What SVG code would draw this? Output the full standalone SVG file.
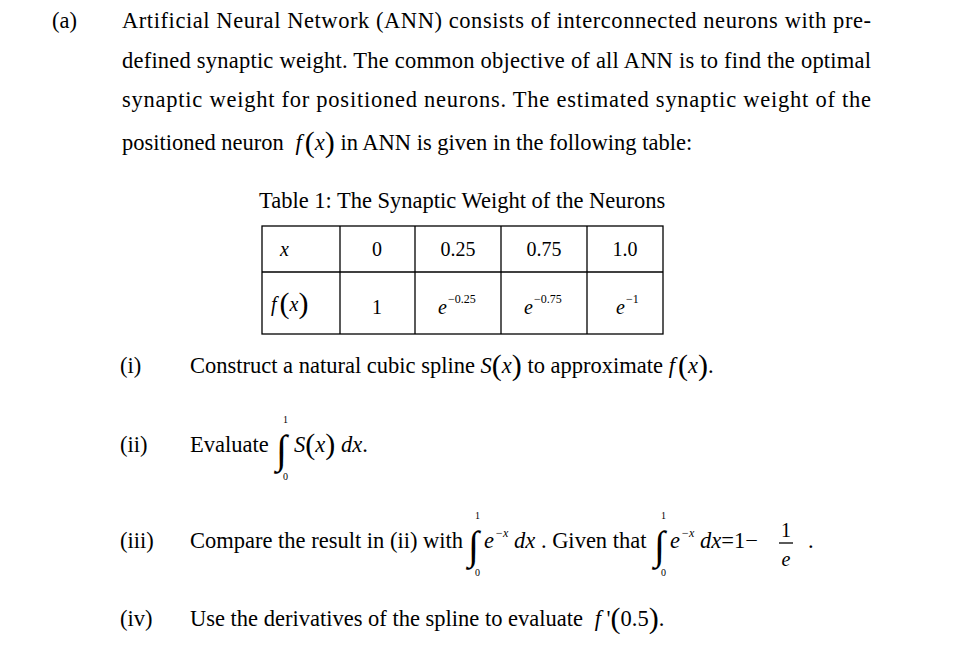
<svg xmlns="http://www.w3.org/2000/svg" width="968" height="659" viewBox="0 0 968 659">
<style>
text{font-family:"Liberation Serif","Times New Roman","DejaVu Serif",serif;font-size:22.5px;fill:#000}
.i{font-style:italic}
.s{font-size:12px}
.l{font-size:10px}
.p{font-size:30px}
.g{font-size:40px}
.c{text-anchor:middle}
.t{font-size:20px}
line{stroke:#000;stroke-width:1.3}
</style>
<rect width="968" height="659" fill="#fff"/>
<g id="intro">
<text x="52" y="28">(a)</text>
<text x="122" y="28" textLength="749" lengthAdjust="spacing">Artificial Neural Network (ANN) consists of interconnected neurons with pre-</text>
<text x="122" y="68" textLength="749" lengthAdjust="spacing">defined synaptic weight. The common objective of all ANN is to find the optimal</text>
<text x="122" y="107" textLength="749" lengthAdjust="spacing">synaptic weight for positioned neurons. The estimated synaptic weight of the</text>
<text x="122" y="150">positioned neuron <tspan class="i" dx="6">f</tspan><tspan class="p" dy="2" dx="3">(</tspan><tspan class="i" dy="-2">x</tspan><tspan class="p" dy="2">)</tspan><tspan dy="-2"> in ANN is given in the following table:</tspan></text>
</g>
<g id="table">
<text x="259" y="208">Table 1: The Synaptic Weight of the Neurons</text>
<rect x="262" y="226" width="401" height="108" fill="none" stroke="#000" stroke-width="1.3"/>
<line x1="262" y1="272" x2="663" y2="272"/>
<line x1="340" y1="226" x2="340" y2="334"/>
<line x1="415" y1="226" x2="415" y2="334"/>
<line x1="501" y1="226" x2="501" y2="334"/>
<line x1="587" y1="226" x2="587" y2="334"/>
<text x="280" y="256" class="i t">x</text>
<text x="377" y="256" class="c t">0</text>
<text x="458" y="256" class="c t">0.25</text>
<text x="544" y="256" class="c t">0.75</text>
<text x="625" y="256" class="c t">1.0</text>
<text x="271" y="311" class="t"><tspan class="i">f</tspan><tspan class="p" dy="2" dx="3">(</tspan><tspan class="i" dy="-2">x</tspan><tspan class="p" dy="2">)</tspan></text>
<text x="377" y="314" class="c t">1</text>
<text x="438" y="314" class="i t">e</text><text x="448" y="303" class="s">−0.25</text>
<text x="524" y="314" class="i t">e</text><text x="534" y="303" class="s">−0.75</text>
<text x="616" y="314" class="i t">e</text><text x="626" y="303" class="s">−1</text>
</g>
<g id="q1">
<text x="120" y="373">(i)</text>
<text x="190" y="373">Construct a natural cubic spline <tspan class="i">S</tspan><tspan class="p" dy="2">(</tspan><tspan class="i" dy="-2">x</tspan><tspan class="p" dy="2">)</tspan><tspan dy="-2"> to approximate </tspan><tspan class="i">f</tspan><tspan class="p" dy="2" dx="3">(</tspan><tspan class="i" dy="-2">x</tspan><tspan class="p" dy="2">)</tspan><tspan dy="-2">.</tspan></text>
</g>
<g id="q2">
<text x="120" y="452">(ii)</text>
<text x="190" y="452">Evaluate</text>
<text x="276" y="463" class="g">∫</text>
<text x="283" y="423" class="l">1</text><text x="283" y="480" class="l">0</text>
<text x="294" y="452"><tspan class="i">S</tspan><tspan class="p" dy="2">(</tspan><tspan class="i" dy="-2">x</tspan><tspan class="p" dy="2">)</tspan><tspan class="i" dy="-2"> dx</tspan>.</text>
</g>
<g id="q3">
<text x="120" y="548">(iii)</text>
<text x="190" y="548">Compare the result in (ii) with</text>
<text x="468" y="559" class="g">∫</text>
<text x="475" y="519" class="l">1</text><text x="475" y="576" class="l">0</text>
<text x="484" y="548" class="i">e</text><text x="495" y="537" class="s i">−x</text>
<text x="514" y="548"><tspan class="i">dx</tspan> . Given that</text>
<text x="654" y="559" class="g">∫</text>
<text x="661" y="519" class="l">1</text><text x="661" y="576" class="l">0</text>
<text x="670" y="548" class="i">e</text><text x="681" y="537" class="s i">−x</text>
<text x="700" y="548"><tspan class="i">dx</tspan>=1−</text>
<text x="786" y="537" class="c t">1</text>
<line x1="779" y1="543" x2="793" y2="543" stroke-width="1"/>
<text x="786" y="566" class="c i t">e</text>
<text x="808" y="548">.</text>
</g>
<g id="q4">
<text x="120" y="626">(iv)</text>
<text x="190" y="626">Use the derivatives of the spline to evaluate <tspan class="i" dx="6">f</tspan> '<tspan class="p" dy="2">(</tspan><tspan dy="-2">0.5</tspan><tspan class="p" dy="2">)</tspan><tspan dy="-2">.</tspan></text>
</g>
</svg>
